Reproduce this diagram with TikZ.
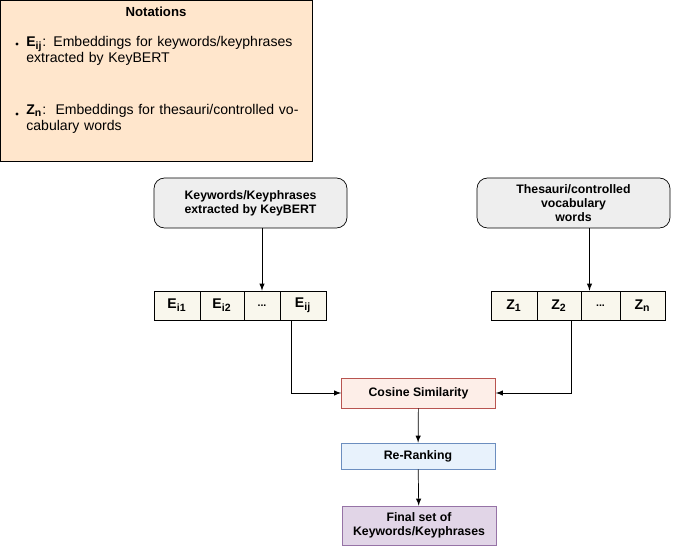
\documentclass[tikz,border=0pt]{standalone}
\usepackage{fontspec}
\setmainfont{Liberation Sans}
\usetikzlibrary{positioning}
\definecolor{notefill}{HTML}{FFE6CC}
\definecolor{greyfill}{HTML}{EEEEEE}
\definecolor{cellfill}{HTML}{F9F7ED}
\definecolor{cosfill}{HTML}{FDEEE8}
\definecolor{cosdraw}{HTML}{B85450}
\definecolor{rrfill}{HTML}{E8F2FC}
\definecolor{rrdraw}{HTML}{6C8EBF}
\definecolor{finfill}{HTML}{E1D5E7}
\definecolor{findraw}{HTML}{9673A6}
\tikzset{
  src/.style={draw, rounded corners=6pt, fill=greyfill, align=center, font=\fontsize{7}{8}\selectfont\bfseries, minimum width=193*0.02cm, minimum height=50*0.02cm},
  cell/.style={draw, fill=cellfill, minimum height=29*0.02cm, font=\fontsize{8}{9}\selectfont\bfseries, inner sep=0pt},
  stage/.style={draw, align=center, minimum width=154*0.02cm, font=\fontsize{7}{8}\selectfont\bfseries}
}
\begin{document}
\begin{tikzpicture}[x=0.02cm,y=-0.02cm]
    \useasboundingbox (0,0) rectangle (687,547);
    \node[draw, fill=notefill, minimum width=311*0.02cm, minimum height=161*0.02cm, anchor=north west, inner sep=0pt] at (0.5,0.5) (Notes) {};
    \node[font=\fontsize{7.5}{9}\selectfont\bfseries] at (156,12) (NotesTitle) {Notations};
    \node[anchor=north west, text width=270*0.02cm, align=left, font=\fontsize{8}{9.2}\selectfont, inner sep=0pt] at (26,36) (NotesE) {\textbf{E\textsubscript{ij}}: Embeddings for keywords/keyphrases extracted by KeyBERT};
    \node[anchor=north west, text width=280*0.02cm, align=left, font=\fontsize{8}{9.2}\selectfont, inner sep=0pt] at (26,104) (NotesZ) {\textbf{Z\textsubscript{n}}:\ \ Embeddings for thesauri/controlled vocabulary words};
    \fill (17,44) circle (1.6);
    \fill (17,114) circle (1.6);
    \node[src] at (250.5,203) (Keys) {Keywords/Keyphrases\\ extracted by KeyBERT};
    \node[src] at (573.5,203) (Thes) {Thesauri/controlled\\ vocabulary\\ words};
    \node[cell, minimum width=46*0.02cm] at (177,305.5) (E1) {E\textsubscript{i1}};
    \node[cell, minimum width=44*0.02cm] at (222,305.5) (E2) {E\textsubscript{i2}};
    \node[cell, minimum width=36*0.02cm] at (262,305.5) (Edots) {\fontsize{6}{7}\selectfont ...};
    \node[cell, minimum width=46*0.02cm] at (303,305.5) (Eij) {E\textsubscript{ij}};
    \node[cell, minimum width=46*0.02cm] at (514,305.5) (Z1) {Z\textsubscript{1}};
    \node[cell, minimum width=44*0.02cm] at (559,305.5) (Z2) {Z\textsubscript{2}};
    \node[cell, minimum width=39*0.02cm] at (600.5,305.5) (Zdots) {\fontsize{6}{7}\selectfont ...};
    \node[cell, minimum width=45*0.02cm] at (642.5,305.5) (Zn) {Z\textsubscript{n}};
    \node[stage, fill=cosfill, draw=cosdraw, minimum height=30*0.02cm] at (418.5,393) (Cos) {Cosine Similarity};
    \node[stage, fill=rrfill, draw=rrdraw, minimum height=26*0.02cm] at (418,456) (Rerank) {Re-Ranking};
    \node[stage, fill=finfill, draw=findraw, minimum height=39*0.02cm] at (419,525.5) (Final) {Final set of\\ Keywords/Keyphrases};
    \draw[-latex] (Keys.south -| Edots.north) -- (Edots.north);
    \draw[-latex] (Thes.south -| Zdots.north) ++(-11,0) coordinate (ThesOut) -- (ThesOut |- Zdots.north);
    \draw[-latex] ([xshift=-12*0.02cm]Eij.south) |- (Cos.west);
    \draw[-latex] ([xshift=12*0.02cm]Z2.south) |- (Cos.east);
    \draw[-latex] (Cos) -- (Rerank);
    \draw[-latex] (Rerank) -- (Final);
\end{tikzpicture}
\end{document}
